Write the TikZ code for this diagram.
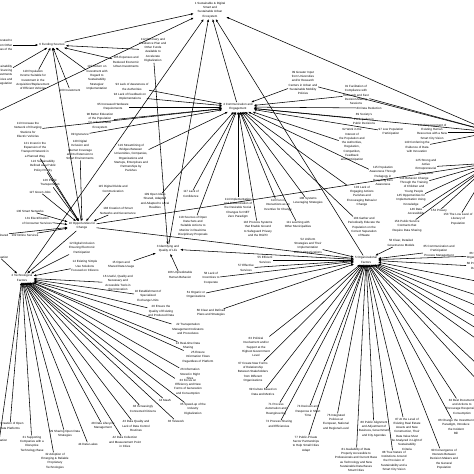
\documentclass[tikz,border=0pt]{standalone}
\usepackage{fontspec}
\setmainfont{Liberation Sans}
\usetikzlibrary{arrows.meta}

\begin{document}
\begin{tikzpicture}[x=1pt,y=-1pt,
    lf/.style={font=\fontsize{3}{4.3}\selectfont,align=center,inner sep=0.6pt},
    hub/.style={lf,inner sep=1.2pt},
    ed/.style={line width=0.55pt,-{Triangle[length=2.5pt,width=2pt]}}]
  \useasboundingbox (0,0) rectangle (474,474);
  \clip (0,0) rectangle (474,474);

  % hubs
  \node[hub] (h1) at (210,10) {1 Sustainable \& Digital\\Smart and\\Sustainable Urban\\Ecosystem};
  \node[hub] (h6) at (52,45) {6 Funding Sources};
  \node[hub] (h4) at (238,107) {4 Communication and\\Engagement};
  \node[hub] (h10) at (82,226) {10 Opportunities for\\Change};
  \node[hub] (h2) at (22,278) {2 Technological\\Factors};
  \node[hub] (h3) at (168,249) {3 Identifying and\\Quality of Life};
  \node[hub] (h5) at (366,260) {5 Organizational\\Factors};
  \coordinate (hL) at (-12,116);
  \coordinate (hR) at (492,132);
  \coordinate (hS) at (492,163);
  \coordinate (o1) at (492,300);
  \coordinate (o2) at (492,325);
  \coordinate (o3) at (492,350);
  \coordinate (o4) at (492,378);
  \coordinate (o5) at (492,284);
  \coordinate (o6) at (492,312);
  \coordinate (o7) at (492,338);
  \coordinate (o8) at (492,396);

  % funding sources
  \node[lf,anchor=east,align=right] (c102) at (13,45) {102 Amounts Allocated to\\Funds from Other\\Areas of the};
  \node[lf,anchor=east,align=right] (c104) at (13,75) {104 Sustainability\\Financing\\Investments\\Policies and\\Regulation};
  \node[lf] (c110) at (33,80) {110 Population\\Income Suitable for\\Investment in the\\Acquisition/Replacement\\of Efficient Vehicles};
  \node[lf] (c100) at (70,90) {100 Investment};
  \node[lf] (c107) at (97,78) {107 Return on\\Investment with\\Regard to\\Sustainability\\Strategies'\\Implementation};
  \node[lf] (c105) at (126,62) {105 Expenses and\\Reduced Economic\\Urban Investments};
  \node[lf] (c112) at (153,50) {112 Recovery and\\Resilience Plan and\\Other Funds\\Available to\\Accelerate\\Digitalization};

  % communication and engagement
  \node[lf] (c93) at (132,87) {93 Lack of Awareness of\\the Authorities};
  \node[lf] (c94) at (130,97) {94 Lack of Feedback on\\Implementations};
  \node[lf] (c95) at (113,107) {95 Increased Hardware\\Requirements};
  \node[lf] (c98) at (100,121) {98 Better Education\\of the Population\\for a Sustainable\\Ecosystem};
  \node[lf] (c99) at (80,135) {99 Ignorance};
  \node[lf] (c113) at (28,130) {113 Increase the\\Network of Charging\\Stations for\\Electric Vehicles};
  \node[lf] (c119) at (131,158) {119 Streamlining of\\Bridges Between\\Universities, Companies,\\Organizations and\\Startups, Enterprises and\\Partnerships by\\Parishes};
  \node[lf] (c109) at (155,201) {109 Open Ideas\\Shared, Adapted\\and Adapted to Local\\Realities};
  \node[lf] (c117) at (191,194) {117 Lack of\\Confidence};
  \node[lf] (c118) at (193,226) {118 Sources of Open\\Data Sets and\\Suitable Actions to\\Monitor in Real-time\\Disciplinary Proposals};
  \node[lf] (c114) at (238,208) {114 Implementation\\and Dissemination of\\the Desirable Social\\Changes for NET\\Zero Paradigm};
  \node[lf] (c113b) at (278,205) {113 Fun in\\Interactions as an\\Incentive for Change};
  \node[lf] (c108) at (308,201) {108 Systems\\Leveraging Strategies};
  \node[lf] (c116) at (258,229) {116 Process Systems\\that Enable Ground\\to Safeguard Privacy\\and the RGPD};
  \node[lf] (c111) at (298,225) {111 Learning with\\Other Municipalities};
  \node[lf] (c103) at (362,196) {103 Lack of\\Engaging Actions\\Parishes and\\Encouraging Behavior\\Change};
  \node[lf] (c104b) at (364,227) {104 Gather and\\Periodically Educate the\\Population on the\\Correct Separation\\of Waste};
  \node[lf] (c115b) at (383,176) {115 Population\\Awareness Through\\Pedagogy in\\Recycling Bins\\Awareness};
  \node[lf] (c99b) at (303,83) {99 Greater Input\\from Universities\\and/or Research\\Centers in Urban and\\Sustainable Mobility\\Policies};
  \node[lf] (c91) at (356,95) {91 Facilitation of\\Compliance with\\Research and Fast\\Decision-Making\\Sessions};
  \node[lf] (c83) at (369,108) {83 Data Reduction};
  \node[lf] (c89) at (364,119) {89 Society's\\Participation in\\Public Decisions};
  \node[lf] (c97) at (391,132) {97 Low Population\\Participation};
  \node[lf] (c92) at (352,145) {92 Work in the\\Interest of\\the Population and\\the Authorities,\\Regulation,\\Competition,\\Feedback\\and Participation};

  % right border
  \node[lf] (c136) at (432,132) {136 Empowerment of\\Existing Human\\Resources with a New\\Smart City Vision};
  \node[lf] (c140) at (417,147) {140 Conferring the\\Evidence of Data\\with Innovation};
  \node[lf] (c125) at (426,167) {125 Strong and\\Active\\Entrepreneurial\\Ecosystem};
  \node[lf] (c144) at (414,185) {144 Behavior Change\\Through the Training\\of Children and\\Young People};
  \node[lf] (c145) at (411,200) {145 Opportunities for\\Implementation Using\\Knowledge};
  \node[lf] (c146) at (416,212) {146 Data\\Accessibility};
  \node[lf] (c152) at (439,211) {152 Privacy};
  \node[lf] (c153) at (458,219) {153 The Low Level of\\Literacy of\\Population};
  \node[lf] (c154) at (407,226) {154 Public Service\\Contracts that\\Require Data Sharing};

  % opportunities for change
  \node[lf] (c121) at (35,150) {121 Invest in the\\Expansion of the\\Transport Network in\\a Planned Way};
  \node[lf] (c120) at (80,150) {120 Digital\\Inclusion and\\Internet Coverage\\and Its Extension to\\Smart Environments};
  \node[lf] (c122) at (43,166) {122 Sustainability\\Defined as a Public\\Policy Priority};
  \node[lf] (c126) at (50,183) {126 Public\\Transportation};
  \node[lf] (c127) at (40,192) {127 Green Jobs};
  \node[lf] (c130) at (30,211) {130 Smart Networks};
  \node[lf] (c131) at (37,221) {131 Electrification\\of Consumer Services};
  \node[lf] (c132) at (25,235) {132 Online Services};
  \node[lf,anchor=east] (c134) at (9,235) {134 Data Shared};
  \node[lf] (c115) at (113,189) {115 Digital Divide and\\Communication};
  \node[lf] (c138) at (118,211) {138 Creation of Smart\\Networks and Governance};

  % technological factors
  \node[lf,anchor=east] (c11) at (9,257) {11 Evaluation};
  \node[lf] (c12) at (82,248) {12 Digital Inclusion\\Ensuring Electronic\\Participation};
  \node[lf] (c14) at (85,266) {14 Existing Simple\\Use Solutions\\Focused on Citizens};
  \node[lf] (c15) at (121,265) {15 Open and\\Shared Data Usage};
  \node[lf] (c16) at (118,283) {16 Useful, Quality and\\Necessary and\\Accessible Tools in\\the Innovation};
  \node[lf] (c18) at (148,296) {18 Establishment of\\Specialized\\Exchange Units};
  \node[lf] (c20) at (161,311) {20 Ensure the\\Quality of Existing\\and Produced Data};
  \node[lf] (c22) at (188,329) {22 Transportation\\Management Indicators\\and Procedures};
  \node[lf] (c24) at (188,346) {24 Real-time Data\\Sharing};
  \node[lf] (c25) at (198,357) {25 Ensure\\Information Flows\\Regardless of Platform};
  \node[lf] (c26) at (190,374) {26 Information\\Stored in Right\\Sites};
  \node[lf] (c33) at (188,387) {33 Focus on\\Efficiency and New\\Forms of Generation\\and Consumption};
  \node[lf] (c34) at (165,400) {34 MaaS};
  \node[lf] (c35) at (193,409) {35 Speed-up of the\\Industry\\Digitalization};
  \node[lf] (c36) at (176,421) {36 Telework};
  \node[lf] (c38) at (143,409) {38 Increasingly\\Connected Citizens};
  \node[lf] (c43) at (136,426) {43 Data Quality and\\Lack of Data Control\\Routines};
  \node[lf] (c42) at (125,442) {42 Data Collection\\and Measurement Point\\in Cities};
  \node[lf] (c48) at (103,426) {48 Data Lifecycle\\Management};
  \node[lf] (c44) at (88,444) {44 Data Lakes};
  \node[lf] (c29) at (65,434) {29 Sharing Open Data\\Strategies};
  \node[lf] (c32) at (55,461) {32 Adoption of\\Emerging \& Reliable\\Proprietary\\Technologies};
  \node[lf] (c31) at (32,444) {31 Supporting\\Companies with a\\Disruptive\\Technology Base};
  \node[lf] (c27) at (10,426) {27 Creation of Open\\Data Platforms};
  \node[lf,anchor=east] (c28) at (8,440) {28 Situation};

  % quality of life
  \node[lf] (c106) at (180,275) {106 Unpredictable\\Human Behavior};

  % organizational factors
  \node[lf] (c56) at (401,243) {56 Clear, Detailed\\Governance Models};
  \node[lf] (c65) at (439,251) {65 Communication and\\Participation\\Process Management};
  \node[lf,anchor=west] (c66) at (466,256) {66 Skilled\\Organizations};
  \node[lf,anchor=west] (c68) at (466,266) {68 Process\\Data};
  \node[lf] (c52) at (308,246) {52 Uniform\\Strategies and Their\\Implementation\\Within Organizations};
  \node[lf] (c55) at (265,260) {55 Efficient\\Services};
  \node[lf] (c57) at (246,268) {57 Effective\\Services};
  \node[lf] (c58) at (211,278) {58 Lack of\\Incentives to\\Cooperate};
  \node[lf] (c61) at (196,295) {61 Organic or\\Organizations};
  \node[lf] (c60) at (211,313) {60 Clear and Defined\\Plans and Strategies};
  \node[lf] (c63) at (256,347) {63 Political\\Involvement and/or\\Support at the\\Highest Government\\Level};
  \node[lf] (c67) at (253,372) {67 Create New Forms\\of Relationship\\Between Stakeholders\\from Different\\Organizations};
  \node[lf] (c69) at (263,392) {69 Culture Based on\\Data and Metrics};
  \node[lf] (c71) at (276,409) {71 Process\\Automation and\\Reengineering};
  \node[lf] (c74) at (308,411) {74 Decision and\\Response in Short\\Time};
  \node[lf] (c72) at (279,424) {72 Process Sharing\\and Efficiencies};
  \node[lf] (c76) at (336,422) {76 Integrated\\Policies at\\European, National\\and Regional Level};
  \node[lf] (c77) at (306,444) {77 Public-Private\\Sector Partnerships\\to Help Small Cities\\Adapt};
  \node[lf] (c81) at (356,460) {81 Availability of Data\\Properly Accessible to\\Professionals and Current Base\\as Technology and New\\Sustainable Data Bases\\Smart Cities};
  \node[lf] (c80) at (374,429) {80 Public Alignment\\and Adjustment of\\Business, Government\\and City Agendas};
  \node[lf] (c87) at (407,434) {87 At the Level of\\Existing Real Estate\\Assets and New\\Construction, Their\\Data Value Must\\be Analyzed in Light of\\Sustainability\\Criteria};
  \node[lf] (c88) at (394,461) {88 True Nature of\\Institutions Around\\the Provision of\\Sustainability and a\\Smart City Vision};
  \node[lf] (c90) at (444,459) {90 Convergence of\\Interests Between\\Decision Makers and\\the General\\Population};
  \node[lf] (c86) at (456,427) {86 Change the Investment\\Paradigm, Introduce\\the Incident\\Bill};
  \node[lf] (c82) at (462,407) {82 Best Documents\\and Actions to\\Encourage Responsible\\Consumption};

  % connectors
  \draw[ed] (h6) -- (h1);  \draw[ed] (h4) -- (h1);  \draw[ed] (h3) -- (h1);
  \draw[ed] (h2) -- (h1);  \draw[ed] (h5) -- (h1);  \draw[ed] (hL) -- (h1);
  \draw[ed] (hR) -- (h1);  \draw[ed] (h10) -- (h6); \draw[ed] (h10) -- (h2);
  \draw[ed] (h10) -- (hS); \draw[ed] (h10) -- (h5); \draw[ed] (h5) -- (h3);
  \draw[ed] (h4) -- (hR);

  \draw[ed] (c102) -- (h6); \draw[ed] (c104) -- (h6); \draw[ed] (c110) -- (h6);
  \draw[ed] (c100) -- (h6); \draw[ed] (c107) -- (h6); \draw[ed] (c105) -- (h6);
  \draw[ed] (c112) -- (h6);

  \draw[ed] (c93) -- (h4);  \draw[ed] (c94) -- (h4);  \draw[ed] (c95) -- (h4);
  \draw[ed] (c98) -- (h4);  \draw[ed] (c99) -- (h4);  \draw[ed] (c113) -- (h4);
  \draw[ed] (c119) -- (h4); \draw[ed] (c109) -- (h4); \draw[ed] (c117) -- (h4);
  \draw[ed] (c118) -- (h4); \draw[ed] (c114) -- (h4); \draw[ed] (c113b) -- (h4);
  \draw[ed] (c108) -- (h4); \draw[ed] (c116) -- (h4); \draw[ed] (c111) -- (h4);
  \draw[ed] (c103) -- (h4); \draw[ed] (c104b) -- (h4); \draw[ed] (c115b) -- (h4);
  \draw[ed] (c99b) -- (h4); \draw[ed] (c91) -- (h4);  \draw[ed] (c83) -- (h4);
  \draw[ed] (c89) -- (h4);  \draw[ed] (c97) -- (h4);  \draw[ed] (c92) -- (h4);

  \draw[ed] (c136) -- (hR); \draw[ed] (c140) -- (hR); \draw[ed] (c99b) -- (hR);
  \draw[ed] (c91) -- (hR);
  \draw[ed] (c125) -- (hS); \draw[ed] (c144) -- (hS); \draw[ed] (c145) -- (hS);
  \draw[ed] (c146) -- (hS); \draw[ed] (c152) -- (hS); \draw[ed] (c153) -- (hS);
  \draw[ed] (c154) -- (hS);

  \draw[ed] (c121) -- (h10); \draw[ed] (c120) -- (h10); \draw[ed] (c122) -- (h10);
  \draw[ed] (c126) -- (h10); \draw[ed] (c127) -- (h10); \draw[ed] (c130) -- (h10);
  \draw[ed] (c131) -- (h10); \draw[ed] (c132) -- (h10); \draw[ed] (c134) -- (h10);
  \draw[ed] (c115) -- (h10); \draw[ed] (c138) -- (h10);

  \draw[ed] (c11) -- (h2);  \draw[ed] (c12) -- (h2);  \draw[ed] (c14) -- (h2);
  \draw[ed] (c16) -- (h2);  \draw[ed] (c18) -- (h2);  \draw[ed] (c20) -- (h2);
  \draw[ed] (c22) -- (h2);  \draw[ed] (c24) -- (h2);  \draw[ed] (c25) -- (h2);
  \draw[ed] (c26) -- (h2);  \draw[ed] (c33) -- (h2);  \draw[ed] (c34) -- (h2);
  \draw[ed] (c35) -- (h2);  \draw[ed] (c36) -- (h2);  \draw[ed] (c38) -- (h2);
  \draw[ed] (c43) -- (h2);  \draw[ed] (c42) -- (h2);  \draw[ed] (c48) -- (h2);
  \draw[ed] (c44) -- (h2);  \draw[ed] (c29) -- (h2);  \draw[ed] (c32) -- (h2);
  \draw[ed] (c31) -- (h2);  \draw[ed] (c27) -- (h2);  \draw[ed] (c28) -- (h2);

  \draw[ed] (c106) -- (h3); \draw[ed] (c15) -- (h3); \draw[ed] (c112) -- (h3);

  \draw[ed] (c56) -- (h5);  \draw[ed] (c65) -- (h5);  \draw[ed] (c66) -- (h5);
  \draw[ed] (c68) -- (h5);  \draw[ed] (c52) -- (h5);  \draw[ed] (c55) -- (h5);
  \draw[ed] (c57) -- (h5);  \draw[ed] (c58) -- (h5);  \draw[ed] (c61) -- (h5);
  \draw[ed] (c60) -- (h5);  \draw[ed] (c63) -- (h5);  \draw[ed] (c67) -- (h5);
  \draw[ed] (c69) -- (h5);  \draw[ed] (c71) -- (h5);  \draw[ed] (c74) -- (h5);
  \draw[ed] (c72) -- (h5);  \draw[ed] (c76) -- (h5);  \draw[ed] (c77) -- (h5);
  \draw[ed] (c81) -- (h5);  \draw[ed] (c80) -- (h5);  \draw[ed] (c87) -- (h5);
  \draw[ed] (c88) -- (h5);  \draw[ed] (c90) -- (h5);  \draw[ed] (c86) -- (h5);
  \draw[ed] (c82) -- (h5);  \draw[ed] (o1) -- (h5);   \draw[ed] (o2) -- (h5);
  \draw[ed] (o3) -- (h5);   \draw[ed] (o4) -- (h5);   \draw[ed] (o5) -- (h5);
  \draw[ed] (o6) -- (h5);   \draw[ed] (o7) -- (h5);   \draw[ed] (o8) -- (h5);
\end{tikzpicture}
\end{document}
